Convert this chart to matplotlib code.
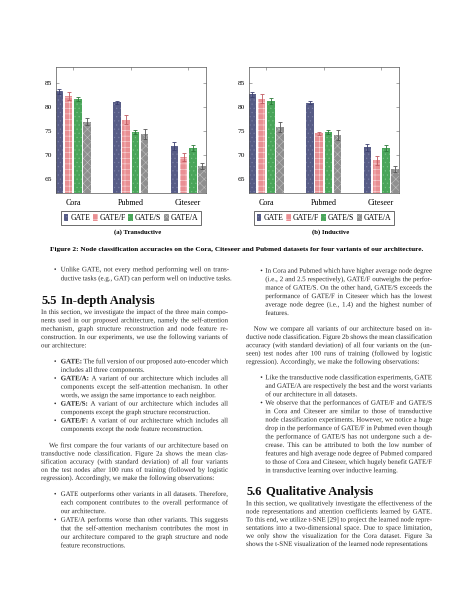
import numpy as np
import matplotlib
matplotlib.use("Agg")
import matplotlib.pyplot as plt
from matplotlib.patches import Patch, PathPatch
from matplotlib.textpath import TextPath, TextToPath
from matplotlib.font_manager import FontProperties

# ---- chart data ----
datasets = ["Cora", "Pubmed", "Citeseer"]
variants = ["GATE", "GATE/F", "GATE/S", "GATE/A"]

trans_mean = {
    "GATE":   [83.2, 80.9, 71.8],
    "GATE/F": [82.2, 77.3, 69.5],
    "GATE/S": [81.7, 74.8, 71.4],
    "GATE/A": [76.9, 74.3, 67.6],
}
trans_std = {
    "GATE":   [0.6, 0.3, 0.8],
    "GATE/F": [0.8, 1.0, 0.8],
    "GATE/S": [0.4, 0.4, 0.7],
    "GATE/A": [0.8, 1.0, 0.6],
}
ind_mean = {
    "GATE":   [82.6, 80.8, 71.5],
    "GATE/F": [81.7, 74.5, 68.8],
    "GATE/S": [81.2, 74.8, 71.4],
    "GATE/A": [75.8, 74.1, 67.0],
}
ind_std = {
    "GATE":   [0.5, 0.3, 0.8],
    "GATE/F": [0.9, 0.3, 1.0],
    "GATE/S": [0.6, 0.4, 0.7],
    "GATE/A": [1.0, 1.0, 0.7],
}
yticks = [65, 70, 75, 80, 85]

# ---- page text ----
caption = ("Figure 2: Node classification accuracies on the Cora, Citeseer and "
           "Pubmed datasets for four variants of our architecture.")

left_bullets_1 = [[
    "Unlike GATE, not every method performing well on trans-",
    "ductive tasks (e.g., GAT) can perform well on inductive tasks.",
]]
para_55 = [
    "In this section, we investigate the impact of the three main compo-",
    "nents used in our proposed architecture, namely the self-attention",
    "mechanism, graph structure reconstruction and node feature re-",
    "construction. In our experiments, we use the following variants of",
    "our architecture:",
]
variant_bullets = [
    ["*GATE: The full version of our proposed auto-encoder which",
     "includes all three components."],
    ["*GATE/A: A variant of our architecture which includes all",
     "components except the self-attention mechanism. In other",
     "words, we assign the same importance to each neighbor."],
    ["*GATE/S: A variant of our architecture which includes all",
     "components except the graph structure reconstruction."],
    ["*GATE/F: A variant of our architecture which includes all",
     "components except the node feature reconstruction."],
]
para_trans = [
    "We first compare the four variants of our architecture based on",
    "transductive node classification. Figure 2a shows the mean clas-",
    "sification accuracy (with standard deviation) of all four variants",
    "on the test nodes after 100 runs of training (followed by logistic",
    "regression). Accordingly, we make the following observations:",
]
trans_bullets = [
    ["GATE outperforms other variants in all datasets. Therefore,",
     "each component contributes to the overall performance of",
     "our architecture."],
    ["GATE/A performs worse than other variants. This suggests",
     "that the self-attention mechanism contributes the most in",
     "our architecture compared to the graph structure and node",
     "feature reconstructions."],
]
right_bullets_1 = [[
    "In Cora and Pubmed which have higher average node degree",
    "(i.e., 2 and 2.5 respectively), GATE/F outweighs the perfor-",
    "mance of GATE/S. On the other hand, GATE/S exceeds the",
    "performance of GATE/F in Citeseer which has the lowest",
    "average node degree (i.e., 1.4) and the highest number of",
    "features.",
]]
para_ind = [
    "Now we compare all variants of our architecture based on in-",
    "ductive node classification. Figure 2b shows the mean classification",
    "accuracy (with standard deviation) of all four variants on the (un-",
    "seen) test nodes after 100 runs of training (followed by logistic",
    "regression). Accordingly, we make the following observations:",
]
ind_bullets = [
    ["Like the transductive node classification experiments, GATE",
     "and GATE/A are respectively the best and the worst variants",
     "of our architecture in all datasets."],
    ["We observe that the performances of GATE/F and GATE/S",
     "in Cora and Citeseer are similar to those of transductive",
     "node classification experiments. However, we notice a huge",
     "drop in the performance of GATE/F in Pubmed even though",
     "the performance of GATE/S has not undergone such a de-",
     "crease. This can be attributed to both the low number of",
     "features and high average node degree of Pubmed compared",
     "to those of Cora and Citeseer, which hugely benefit GATE/F",
     "in transductive learning over inductive learning."],
]
para_56 = [
    "In this section, we qualitatively investigate the effectiveness of the",
    "node representations and attention coefficients learned by GATE.",
    "To this end, we utilize t-SNE [29] to project the learned node repre-",
    "sentations into a two-dimensional space. Due to space limitation,",
    "we only show the visualization for the Cora dataset. Figure 3a",
    "shows the t-SNE visualization of the learned node representations",
]

# ---- styling ----
W, H = 474, 613
SERIF = ["Liberation Serif", "DejaVu Serif"]
colors = {"GATE": "#575c86", "GATE/F": "#e98f93", "GATE/S": "#4aa55a", "GATE/A": "#8f8f8f"}
hatch_col = {"GATE": "#7b80a6", "GATE/F": "#fbe3e4", "GATE/S": "#78c486", "GATE/A": "#c4c4c4"}
hatches = {"GATE": "....", "GATE/F": "+++", "GATE/S": "....", "GATE/A": "xxxx"}
err_col = {"GATE": "#3c4070", "GATE/F": "#c05a60", "GATE/S": "#2e7a3a", "GATE/A": "#555555"}
INK = "#2a2a2a"

plt.rcParams["hatch.linewidth"] = 0.35
plt.rcParams["font.family"] = SERIF

fig = plt.figure(figsize=(W / 100, H / 100), dpi=100)
fig.patch.set_facecolor("white")


def px_axes(x0, y0, x1, y1):
    return fig.add_axes([x0 / W, 1 - y1 / H, (x1 - x0) / W, (y1 - y0) / H])


def draw_chart(ax, mean, std):
    x = np.arange(len(datasets))
    width = 0.13
    for i, v in enumerate(variants):
        off = (i - 1.5) * 0.16
        ax.bar(x + off, mean[v], width, color=colors[v], edgecolor=hatch_col[v],
               hatch=hatches[v], linewidth=0, zorder=2)
        ax.errorbar(x + off, mean[v], yerr=std[v], fmt="none", ecolor=err_col[v],
                    elinewidth=0.6, capsize=1.6, capthick=0.6, zorder=3)
    ax.set_xlim(-0.3, 2.31)
    ax.set_ylim(62, 88.3)
    ax.set_yticks(yticks)
    ax.set_xticks(x)
    ax.set_xticklabels(datasets)
    ax.tick_params(axis="y", direction="in", length=2, width=0.4, color="#666666",
                   labelsize=5.3, right=True, pad=3)
    ax.tick_params(axis="x", direction="in", pad=4.5, length=2, width=0.4,
                   color="#666666", labelsize=5.8, top=True, bottom=False)
    for s in ax.spines.values():
        s.set_linewidth(0.5)
        s.set_color("#555555")


axL = px_axes(56, 67, 206, 193)
draw_chart(axL, trans_mean, trans_std)
axR = px_axes(249, 67, 399, 193)
draw_chart(axR, ind_mean, ind_std)

handles = [Patch(facecolor=colors[v], edgecolor=hatch_col[v], hatch=hatches[v],
                 linewidth=0) for v in variants]
for cx in (131, 324):
    lg = fig.legend(handles, variants, loc="center", bbox_to_anchor=(cx / W, 1 - 218 / H),
                    ncol=4, fontsize=5.6, frameon=True, fancybox=False, edgecolor="#333333",
                    framealpha=1, handlelength=0.6, handleheight=1.1, handletextpad=0.25,
                    columnspacing=0.35, borderpad=0.3, borderaxespad=0)
    lg.get_frame().set_linewidth(0.5)

fig.text(138 / W, 1 - 232 / H, "(a) Transductive", ha="center", va="center",
         fontsize=4.9, fontweight="bold")
fig.text(331 / W, 1 - 232 / H, "(b) Inductive", ha="center", va="center",
         fontsize=4.9, fontweight="bold")
fig.text(237 / W, 1 - 249.3 / H, caption, ha="center", va="center",
         fontsize=5.2, fontweight="bold")

# page layer in pixel units (y up) for the justified body text
page = fig.add_axes([0, 0, 1, 1], zorder=5)
page.set_xlim(0, W)
page.set_ylim(0, H)
page.axis("off")
page.patch.set_alpha(0)

t2p = TextToPath()
FP = {False: FontProperties(family=SERIF, weight="normal"),
      True: FontProperties(family=SERIF, weight="bold")}
_cache = {}


def word_w(s, bold, size):
    key = (s, bold, size)
    if key not in _cache:
        fp = FP[bold].copy()
        fp.set_size(size)
        _cache[key] = t2p.get_text_width_height_descent(s, fp, ismath=False)[0]
    return _cache[key]


def put_word(x, yb, s, bold, size):
    tp = TextPath((x, H - yb), s, size=size, prop=FP[bold])
    page.add_patch(PathPatch(tp, facecolor=INK, edgecolor="none", lw=0))


jobs = []      # (x0, x1, y, line, justify)
bullet_marks = []


def paragraph(lines, x0, x1, y0, dy, indent=0.0):
    for k, line in enumerate(lines):
        xs = x0 + (indent if k == 0 else 0)
        jobs.append((xs, x1, y0 + k * dy, line, k < len(lines) - 1))
    return y0 + len(lines) * dy


def bullets(items, xb, x0, x1, y0, dy):
    y = y0
    for item in items:
        bullet_marks.append((xb, y))
        y = paragraph(item, x0, x1, y, dy)


def split_words(line):
    return [(w.lstrip("*"), w.startswith("*")) for w in line.split(" ")]


# left column
bullets(left_bullets_1, 54, 60.7, 229, 269.7, 9.0)
paragraph(para_55, 41, 228, 312.3, 8.35)
bullets(variant_bullets, 54, 60.7, 228, 361.7, 8.45)
paragraph(para_trans, 41, 228, 445.7, 8.15, indent=8)
bullets(trans_bullets, 54, 60.7, 228, 494.3, 8.57)
# right column
bullets(right_bullets_1, 260.3, 265.3, 432, 271, 8.46)
paragraph(para_ind, 246, 432, 329, 8.25, indent=7.7)
bullets(ind_bullets, 260.3, 265.3, 432, 377.7, 8.45)
paragraph(para_56, 246, 432, 503.7, 8.12)

# font size (in px) so that most justified lines sit at or above natural spacing
S0 = 6.0
sp0 = word_w("a a", False, S0) - word_w("aa", False, S0)
ratios = []
for x0, x1, y, line, just in jobs:
    if just:
        items = split_words(line)
        nat = sum(word_w(w, b, S0) for w, b in items) + (len(items) - 1) * sp0
        ratios.append((x1 - x0) / nat)
FS = S0 * float(np.percentile(ratios, 15))
SPACE = sp0 * FS / S0

for x0, x1, yc, line, just in jobs:
    items = split_words(line)
    ws = [word_w(w, b, FS) for w, b in items]
    if just and len(items) > 1:
        gap = max((x1 - x0 - sum(ws)) / (len(items) - 1), 0.5 * SPACE)
    else:
        gap = SPACE
    x = x0
    for (w, b), wd in zip(items, ws):
        put_word(x, yc + 1.7, w, b, FS)
        x += wd + gap

for xb, y in bullet_marks:
    put_word(xb, y + 1.7, "\u2022", False, FS)


def heading(num, title, x_num, x_title, yc):
    for xx, s in ((x_num, num), (x_title, title)):
        fig.text(xx / W, 1 - (yc + 2.7) / H, s, fontsize=9.0, fontweight="bold",
                 va="baseline", ha="left", color="#111111")


heading("5.5", "In-depth Analysis", 41.7, 61, 301)
heading("5.6", "Qualitative Analysis", 246.3, 265.7, 492)

fig.savefig("out.png", dpi=100, facecolor="white")
